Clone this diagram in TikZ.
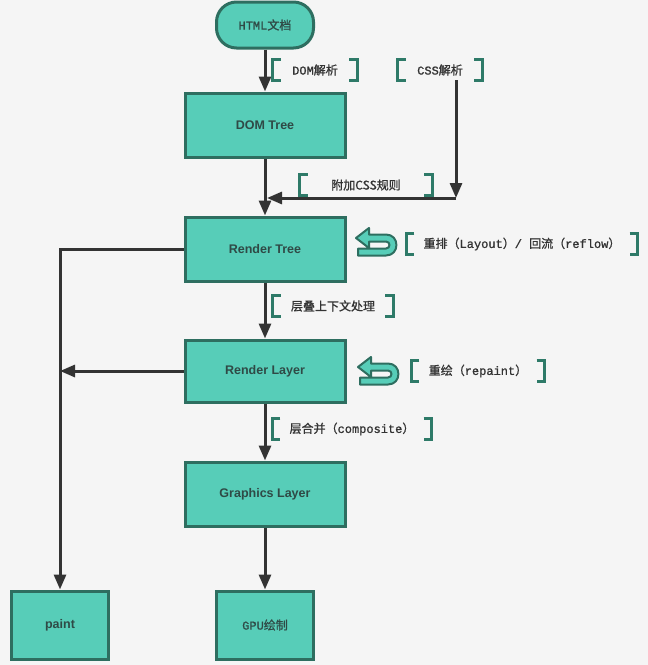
\documentclass[tikz,border=0pt]{standalone}
\usepackage{fontspec}
\setmainfont{Liberation Sans}
\newfontfamily\cjk[FakeBold=1]{Noto Sans CJK SC}
\newfontfamily\mono[FakeBold=1]{Liberation Mono}
\usetikzlibrary{arrows.meta}
\definecolor{bgcol}{HTML}{F5F5F5}
\definecolor{boxfill}{HTML}{57CDB8}
\definecolor{boxline}{HTML}{2E6E60}
\definecolor{brkcol}{HTML}{2E7A68}
\definecolor{arrcol}{HTML}{333333}
\definecolor{txtcol}{HTML}{2F4A46}
\newcommand\zh[1]{{\cjk #1}}

\begin{document}
\begin{tikzpicture}[x=1pt,y=-1pt,>={Triangle[length=15pt,width=12pt]},
	box/.style={draw=boxline,fill=boxfill,line width=3pt,minimum width=160pt,minimum height=64pt,
		text=txtcol,font=\bfseries\fontsize{12.5}{14}\selectfont},
	note/.style={inner sep=0pt,minimum height=20pt,text=arrcol,font=\mono\fontsize{12}{14}\selectfont},
	brk/.style={draw=brkcol,line width=3pt},
	flow/.style={->,draw=arrcol,line width=3pt},
	undo/.pic={\draw[draw=boxline,fill=boxfill,line width=2pt,line join=round]
		(0,0) -- (13,-10) -- (13,-3.5) -- (30,-3.5) to[out=0,in=0,looseness=1.7] (30,17.5)
		-- (2,17.5) -- (2,10.5) -- (30,10.5) to[out=0,in=0,looseness=1.7] (30,3.5)
		-- (13,3.5) -- (13,10) -- cycle;}]
	\fill[bgcol] (0,0) rectangle (648,665);
	
	\path
	(265,25)  node[box,rounded corners=20pt,minimum width=97pt,minimum height=46pt,
	font=\mono\fontsize{12}{14}\selectfont] (html) {HTML\zh{文档}}
	(265,125) node[box] 					(dom) 		{DOM Tree}
	(265,249) node[box] 					(rtree) 	{Render Tree}
	(265,371) node[box,minimum height=62pt] (rlayer) 	{Render Layer}
	(265,494) node[box] 					(glayer) 	{Graphics Layer}
	(60,625)  node[box,minimum width=97pt,minimum height=68pt] (paint) {paint}
	(265,625) node[box,minimum width=97pt,minimum height=68pt,
	font=\mono\fontsize{12}{14}\selectfont] (gpu) {GPU\zh{绘制}};
	
	\path
	(315,70)  node[note,minimum width=84pt]  (domp) 	 {DOM\zh{解析}}
	(440,70)  node[note,minimum width=84pt]  (cssp) 	 {CSS\zh{解析}}
	(366,185) node[note,minimum width=132pt] (attach) 	 {\zh{附加CSS规则}}
	(522,244) node[note,minimum width=231pt] (layout) 	 {\zh{重排（}Layout\zh{）}/ \zh{回流（}reflow\zh{）}}
	(333,306) node[note,minimum width=120pt] (stack) 	 {\zh{层叠上下文处理}}
	(478,371) node[note,minimum width=133pt] (repaint) 	 {\zh{重绘（}repaint\zh{）}}
	(352,429) node[note,minimum width=159pt] (composite) {\zh{层合并（}composite\zh{）}};
	
	\coordinate (cssin) at (456,80);
	\coordinate (join)  at (456,198);
	\coordinate (merge) at (267,198);
	
	\draw[flow] (html) -- (dom);
	\draw[flow] (dom) -- (rtree);
	\draw[flow] (cssin) -- (join);
	\draw[flow] (join) -- (merge);
	\draw[flow] (rtree) -- (rlayer);
	\draw[flow] (rlayer) -- (glayer);
	\draw[flow] (glayer) -- (gpu);
	\draw[flow] (rtree.west) -| (paint.north);
	\draw[flow] (rlayer.west) -- (rlayer.west -| paint.north);
	
	\pic at (356,238) {undo};
	\pic at (358,367) {undo};
	
	\foreach \n in {domp,cssp,attach,layout,stack,repaint,composite}{
		\draw[brk] ([xshift=8pt]\n.north west) -| (\n.south west) -- ++(8pt,0);
		\draw[brk] ([xshift=-8pt]\n.north east) -| (\n.south east) -- ++(-8pt,0);
	}
\end{tikzpicture}
\end{document}
